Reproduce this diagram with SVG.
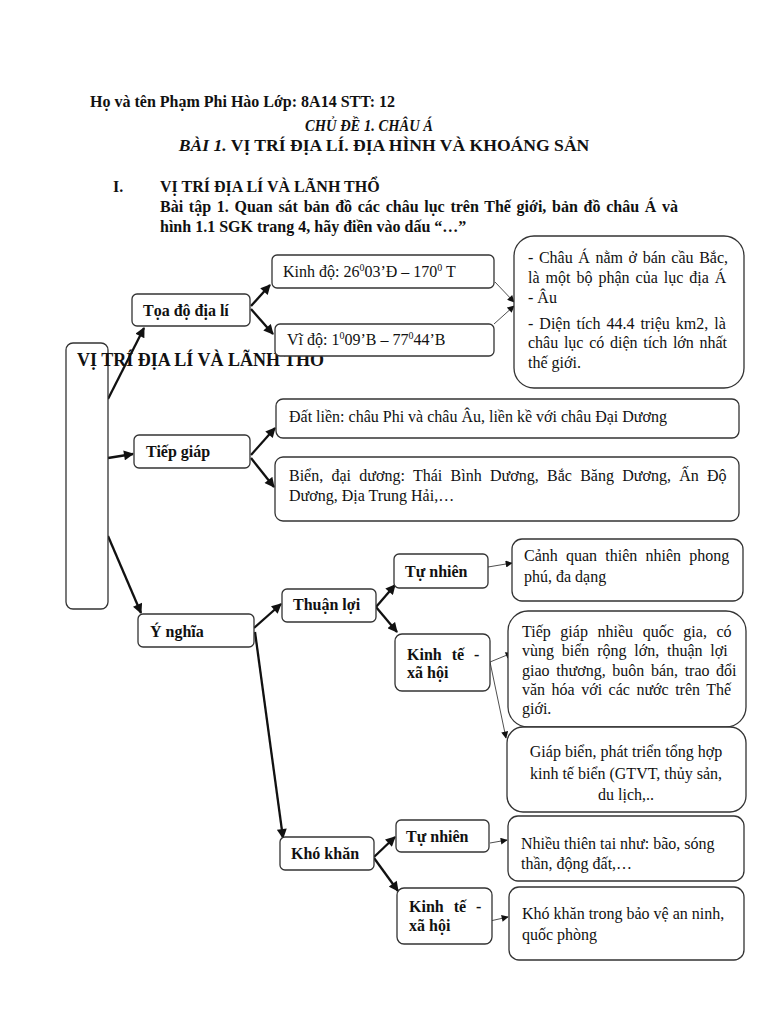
<svg xmlns="http://www.w3.org/2000/svg" width="768" height="1024" viewBox="0 0 768 1024">
<style>
text{font-family:"Liberation Serif","Times New Roman",serif;fill:#111;font-size:16px}
.b{font-weight:bold}
.bi{font-weight:bold;font-style:italic}
.box{fill:#fff;stroke:#333;stroke-width:1.3}
.thk{stroke:#111;stroke-width:2.3;fill:none;marker-end:url(#ah)}
.thn{stroke:#222;stroke-width:0.8;fill:none;marker-end:url(#as)}
</style>
<defs>
<marker id="ah" markerUnits="userSpaceOnUse" viewBox="0 0 10 10" refX="9" refY="5" markerWidth="11" markerHeight="10" orient="auto"><path d="M0,0 L10,5 L0,10 z" fill="#111"/></marker>
<marker id="as" markerUnits="userSpaceOnUse" viewBox="0 0 10 10" refX="9" refY="5" markerWidth="8" markerHeight="7" orient="auto"><path d="M0,0 L10,5 L0,10 z" fill="#111"/></marker>
</defs>
<rect width="768" height="1024" fill="#fff"/>
<g id="header">
<text class="b" x="90" y="107">Họ và tên Phạm Phi Hào Lớp: 8A14 STT: 12</text>
<text class="bi" x="305" y="131" style="font-size:16.5px" textLength="128" lengthAdjust="spacingAndGlyphs">CHỦ ĐỀ 1. CHÂU Á</text>
<text class="b" x="384" y="151" text-anchor="middle" style="font-size:17.6px"><tspan font-style="italic">BÀI 1.</tspan> VỊ TRÍ ĐỊA LÍ. ĐỊA HÌNH VÀ KHOÁNG SẢN</text>
<text class="b" x="113" y="192">I.</text>
<text class="b" x="160" y="192">VỊ TRÍ ĐỊA LÍ VÀ LÃNH THỔ</text>
<text class="b" x="160" y="212" word-spacing="1.7">Bài tập 1. Quan sát bản đồ các châu lục trên Thế giới, bản đồ châu Á và</text>
<text class="b" x="160" y="232">hình 1.1 SGK trang 4, hãy điền vào dấu “…”</text>
</g>
<g id="connectors">
<line class="thk" x1="108" y1="399" x2="144" y2="328"/>
<line class="thk" x1="108" y1="458" x2="133" y2="454"/>
<line class="thk" x1="108" y1="536" x2="141" y2="613"/>
<line class="thk" x1="251" y1="306" x2="270" y2="285"/>
<line class="thk" x1="251" y1="309" x2="273" y2="334"/>
<line class="thn" x1="495" y1="282" x2="514" y2="302"/>
<line class="thn" x1="494" y1="324" x2="514" y2="306"/>
<line class="thk" x1="251" y1="455" x2="275" y2="428"/>
<line class="thk" x1="251" y1="458" x2="274" y2="487"/>
<line class="thk" x1="254" y1="628" x2="281" y2="604"/>
<line class="thk" x1="255" y1="632" x2="283" y2="838"/>
<line class="thk" x1="376" y1="607" x2="395" y2="585"/>
<line class="thk" x1="376" y1="607" x2="397" y2="632"/>
<line class="thn" x1="488" y1="567" x2="512" y2="563"/>
<line class="thn" x1="490" y1="662" x2="512" y2="653"/>
<line class="thn" x1="490" y1="662" x2="506" y2="738"/>
<line class="thk" x1="374" y1="857" x2="395" y2="837"/>
<line class="thk" x1="374" y1="858" x2="398" y2="891"/>
<line class="thn" x1="490" y1="843" x2="507" y2="840"/>
<line class="thn" x1="490" y1="921" x2="508" y2="917"/>
</g>
<g id="root">
<rect class="box" x="66" y="343" width="42" height="266" rx="7"/>
<text class="b" x="77" y="366" style="font-size:18px">VỊ TRÍ ĐỊA LÍ VÀ LÃNH THỔ</text>
</g>
<g id="toa-do">
<rect class="box" x="132" y="294" width="118" height="32" rx="5"/>
<text class="b" x="143" y="316">Tọa độ địa lí</text>
</g>
<g id="kinh-do">
<rect class="box" x="272" y="255" width="222" height="33" rx="5"/>
<text x="283" y="277">Kinh độ: 26<tspan font-size="10" dy="-6">0</tspan><tspan dy="6">03’Đ – 170</tspan><tspan font-size="10" dy="-6">0</tspan><tspan dy="6"> T</tspan></text>
</g>
<g id="vi-do">
<rect class="box" x="275" y="324" width="219" height="32" rx="5"/>
<text x="287" y="345">Vĩ độ: 1<tspan font-size="10" dy="-6">0</tspan><tspan dy="6">09’B – 77</tspan><tspan font-size="10" dy="-6">0</tspan><tspan dy="6">44’B</tspan></text>
</g>
<g id="chau-a">
<rect class="box" x="514" y="236" width="230" height="152" rx="20"/>
<text x="528" y="263" word-spacing="1.6">- Châu Á nằm ở bán cầu Bắc,</text>
<text x="528" y="283" word-spacing="2">là một bộ phận của lục địa Á</text>
<text x="528" y="303">- Âu</text>
<text x="528" y="329" word-spacing="2">- Diện tích 44.4 triệu km2, là</text>
<text x="528" y="348" word-spacing="1.7">châu lục có diện tích lớn nhất</text>
<text x="528" y="368">thế giới.</text>
</g>
<g id="tiep-giap">
<rect class="box" x="134" y="435" width="116" height="33" rx="5"/>
<text class="b" x="146" y="457">Tiếp giáp</text>
</g>
<g id="dat-lien">
<rect class="box" x="276" y="399" width="463" height="39" rx="7"/>
<text x="289" y="422">Đất liền: châu Phi và châu Âu, liền kề với châu Đại Dương</text>
</g>
<g id="bien">
<rect class="box" x="275" y="457" width="464" height="64" rx="8"/>
<text x="289" y="481" word-spacing="4.3">Biển, đại dương: Thái Bình Dương, Bắc Băng Dương, Ấn Độ</text>
<text x="289" y="501">Dương, Địa Trung Hải,…</text>
</g>
<g id="y-nghia">
<rect class="box" x="138" y="614" width="116" height="33" rx="5"/>
<text class="b" x="150" y="637">Ý nghĩa</text>
</g>
<g id="thuan-loi">
<rect class="box" x="282" y="589" width="94" height="33" rx="5"/>
<text class="b" x="293" y="610">Thuận lợi</text>
</g>
<g id="tu-nhien-1">
<rect class="box" x="394" y="554" width="94" height="34" rx="5"/>
<text class="b" x="405" y="577">Tự nhiên</text>
</g>
<g id="kinh-te-1">
<rect class="box" x="395" y="634" width="95" height="57" rx="7"/>
<text class="b" x="407" y="660" word-spacing="6">Kinh tế -</text>
<text class="b" x="407" y="678">xã hội</text>
</g>
<g id="canh-quan">
<rect class="box" x="512" y="539" width="231" height="62" rx="10"/>
<text x="524" y="561" word-spacing="4.2">Cảnh quan thiên nhiên phong</text>
<text x="524" y="582">phú, đa dạng</text>
</g>
<g id="tiep-giap-nhieu">
<rect class="box" x="508" y="611" width="238" height="116" rx="20"/>
<text x="522" y="637" word-spacing="5.6">Tiếp giáp nhiều quốc gia, có</text>
<text x="522" y="656" word-spacing="3.8">vùng biển rộng lớn, thuận lợi</text>
<text x="522" y="676" word-spacing="2.6">giao thương, buôn bán, trao đổi</text>
<text x="522" y="695" word-spacing="2.5">văn hóa với các nước trên Thế</text>
<text x="522" y="714">giới.</text>
</g>
<g id="giap-bien">
<rect class="box" x="507" y="727" width="239" height="85" rx="16"/>
<text x="626" y="757" text-anchor="middle">Giáp biển, phát triển tổng hợp</text>
<text x="626" y="779" text-anchor="middle">kinh tế biển (GTVT, thủy sản,</text>
<text x="626" y="800" text-anchor="middle">du lịch,..</text>
</g>
<g id="kho-khan">
<rect class="box" x="280" y="837" width="94" height="33" rx="5"/>
<text class="b" x="291" y="859">Khó khăn</text>
</g>
<g id="tu-nhien-2">
<rect class="box" x="396" y="820" width="93" height="32" rx="5"/>
<text class="b" x="406" y="842">Tự nhiên</text>
</g>
<g id="kinh-te-2">
<rect class="box" x="397" y="888" width="95" height="56" rx="7"/>
<text class="b" x="409" y="912" word-spacing="6">Kinh tế -</text>
<text class="b" x="409" y="931">xã hội</text>
</g>
<g id="thien-tai">
<rect class="box" x="508" y="816" width="236" height="65" rx="10"/>
<text x="521" y="849">Nhiều thiên tai như: bão, sóng</text>
<text x="521" y="869">thần, động đất,…</text>
</g>
<g id="an-ninh">
<rect class="box" x="509" y="887" width="235" height="73" rx="10"/>
<text x="522" y="919">Khó khăn trong bảo vệ an ninh,</text>
<text x="522" y="940">quốc phòng</text>
</g>
</svg>
